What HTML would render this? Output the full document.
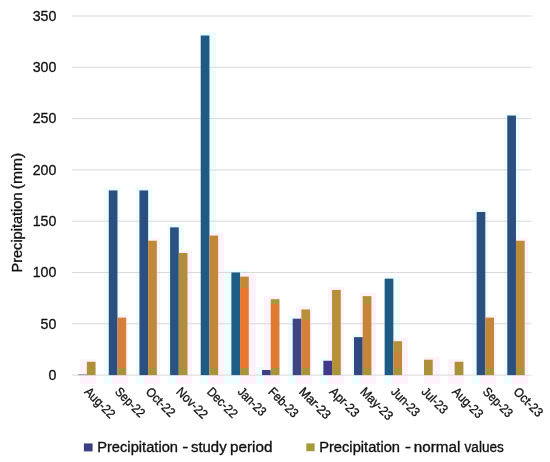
<!DOCTYPE html>
<html><head><meta charset="utf-8"><title>Precipitation</title>
<style>html,body{margin:0;padding:0;background:#fff}svg{display:block}</style></head>
<body>
<svg width="550" height="462" viewBox="0 0 550 462" font-family="'Liberation Sans', sans-serif" fill="#111">
<rect width="550" height="462" fill="#fff"/>
<rect x="104" y="187" width="16" height="197" fill="#eefefe"/>
<rect x="136" y="187" width="16" height="197" fill="#eefefe"/>
<rect x="168" y="224" width="16" height="160" fill="#eefefe"/>
<rect x="200" y="32" width="16" height="352" fill="#eefefe"/>
<rect x="224" y="270" width="24" height="114" fill="#eefefe"/>
<rect x="256" y="367" width="16" height="17" fill="#eefefe"/>
<rect x="288" y="316" width="16" height="68" fill="#eefefe"/>
<rect x="320" y="358" width="16" height="26" fill="#eefefe"/>
<rect x="352" y="334" width="16" height="50" fill="#eefefe"/>
<rect x="384" y="276" width="16" height="108" fill="#eefefe"/>
<rect x="472" y="209" width="16" height="175" fill="#eefefe"/>
<rect x="504" y="113" width="16" height="271" fill="#eefefe"/>
<rect x="80" y="359" width="16" height="25" fill="#fff3fb"/>
<rect x="112" y="315" width="16" height="69" fill="#fff3fb"/>
<rect x="144" y="238" width="16" height="146" fill="#fff3fb"/>
<rect x="176" y="250" width="16" height="134" fill="#fff3fb"/>
<rect x="208" y="233" width="16" height="151" fill="#fff3fb"/>
<rect x="240" y="274" width="16" height="110" fill="#fff3fb"/>
<rect x="264" y="296" width="16" height="88" fill="#fff3fb"/>
<rect x="296" y="306" width="16" height="78" fill="#fff3fb"/>
<rect x="328" y="287" width="16" height="97" fill="#fff3fb"/>
<rect x="360" y="293" width="16" height="91" fill="#fff3fb"/>
<rect x="392" y="338" width="16" height="46" fill="#fff3fb"/>
<rect x="424" y="357" width="16" height="27" fill="#fff3fb"/>
<rect x="448" y="359" width="16" height="25" fill="#fff3fb"/>
<rect x="480" y="315" width="16" height="69" fill="#fff3fb"/>
<rect x="512" y="238" width="16" height="146" fill="#fff3fb"/>
<line x1="71.8" x2="531.6" y1="375.10" y2="375.10" stroke="#d9d9d9" stroke-width="1"/>
<line x1="71.8" x2="531.6" y1="323.80" y2="323.80" stroke="#d9d9d9" stroke-width="1"/>
<line x1="71.8" x2="531.6" y1="272.50" y2="272.50" stroke="#d9d9d9" stroke-width="1"/>
<line x1="71.8" x2="531.6" y1="221.20" y2="221.20" stroke="#d9d9d9" stroke-width="1"/>
<line x1="71.8" x2="531.6" y1="169.90" y2="169.90" stroke="#d9d9d9" stroke-width="1"/>
<line x1="71.8" x2="531.6" y1="118.60" y2="118.60" stroke="#d9d9d9" stroke-width="1"/>
<line x1="71.8" x2="531.6" y1="67.30" y2="67.30" stroke="#d9d9d9" stroke-width="1"/>
<line x1="71.8" x2="531.6" y1="16.00" y2="16.00" stroke="#d9d9d9" stroke-width="1"/>
<rect x="78.13" y="374.48" width="8.7" height="0.62" fill="#5b6178"/>
<rect x="86.83" y="361.76" width="8.7" height="6.54" fill="#b08f3a"/>
<rect x="86.83" y="368.00" width="8.7" height="7.10" fill="#a8923a"/>
<rect x="108.78" y="190.42" width="8.7" height="184.68" fill="#2d4f80"/>
<rect x="117.48" y="317.64" width="8.7" height="50.66" fill="#d5803a"/>
<rect x="117.48" y="368.00" width="8.7" height="7.10" fill="#a8923a"/>
<rect x="139.43" y="190.42" width="8.7" height="184.68" fill="#2d4f80"/>
<rect x="148.13" y="240.69" width="8.7" height="127.61" fill="#bf8a3a"/>
<rect x="148.13" y="368.00" width="8.7" height="7.10" fill="#a8923a"/>
<rect x="170.09" y="227.36" width="8.7" height="147.74" fill="#2a5282"/>
<rect x="178.79" y="253.01" width="8.7" height="115.29" fill="#b38e3a"/>
<rect x="178.79" y="368.00" width="8.7" height="7.10" fill="#a8923a"/>
<rect x="200.74" y="35.49" width="8.7" height="339.61" fill="#1f5a85"/>
<rect x="209.44" y="235.56" width="8.7" height="132.74" fill="#c4873a"/>
<rect x="209.44" y="368.00" width="8.7" height="7.10" fill="#a8923a"/>
<rect x="231.39" y="272.50" width="8.7" height="102.60" fill="#1d5c85"/>
<rect x="240.09" y="276.60" width="8.7" height="11.70" fill="#c08a3a"/>
<rect x="240.09" y="288.00" width="8.7" height="80.30" fill="#e8772f"/>
<rect x="240.09" y="368.00" width="8.7" height="7.10" fill="#a8923a"/>
<rect x="262.05" y="369.97" width="8.7" height="5.13" fill="#3b3f85"/>
<rect x="270.75" y="299.18" width="8.7" height="5.12" fill="#a8983a"/>
<rect x="270.75" y="304.00" width="8.7" height="64.30" fill="#e07a32"/>
<rect x="270.75" y="368.00" width="8.7" height="7.10" fill="#a8923a"/>
<rect x="292.70" y="318.67" width="8.7" height="56.43" fill="#3d4585"/>
<rect x="301.40" y="309.44" width="8.7" height="10.86" fill="#b8903a"/>
<rect x="301.40" y="320.00" width="8.7" height="48.30" fill="#d5803a"/>
<rect x="301.40" y="368.00" width="8.7" height="7.10" fill="#a8923a"/>
<rect x="323.35" y="360.74" width="8.7" height="14.36" fill="#40388a"/>
<rect x="332.05" y="289.94" width="8.7" height="78.36" fill="#b58f3a"/>
<rect x="332.05" y="368.00" width="8.7" height="7.10" fill="#a8923a"/>
<rect x="354.01" y="337.14" width="8.7" height="37.96" fill="#30487f"/>
<rect x="362.71" y="296.10" width="8.7" height="8.20" fill="#b0923a"/>
<rect x="362.71" y="304.00" width="8.7" height="64.30" fill="#c5853a"/>
<rect x="362.71" y="368.00" width="8.7" height="7.10" fill="#a8923a"/>
<rect x="384.66" y="278.66" width="8.7" height="96.44" fill="#1f5a85"/>
<rect x="393.36" y="341.24" width="8.7" height="11.06" fill="#b58f3a"/>
<rect x="393.36" y="352.00" width="8.7" height="16.30" fill="#c5853a"/>
<rect x="393.36" y="368.00" width="8.7" height="7.10" fill="#a8923a"/>
<rect x="424.01" y="359.71" width="8.7" height="8.59" fill="#b08f3a"/>
<rect x="424.01" y="368.00" width="8.7" height="7.10" fill="#a8923a"/>
<rect x="454.67" y="361.76" width="8.7" height="6.54" fill="#b08f3a"/>
<rect x="454.67" y="368.00" width="8.7" height="7.10" fill="#a8923a"/>
<rect x="476.62" y="211.97" width="8.7" height="163.13" fill="#2d4f80"/>
<rect x="485.32" y="317.64" width="8.7" height="50.66" fill="#c4873a"/>
<rect x="485.32" y="368.00" width="8.7" height="7.10" fill="#a8923a"/>
<rect x="507.27" y="115.52" width="8.7" height="259.58" fill="#2d4f80"/>
<rect x="515.97" y="240.69" width="8.7" height="127.61" fill="#bb8c3a"/>
<rect x="515.97" y="368.00" width="8.7" height="7.10" fill="#a8923a"/>
<text x="56.4" y="379.80" font-size="14.8" text-anchor="end" textLength="7.9" lengthAdjust="spacingAndGlyphs" stroke="#111" stroke-width="0.32">0</text>
<text x="56.4" y="328.50" font-size="14.8" text-anchor="end" textLength="15.8" lengthAdjust="spacingAndGlyphs" stroke="#111" stroke-width="0.32">50</text>
<text x="56.4" y="277.20" font-size="14.8" text-anchor="end" textLength="23.7" lengthAdjust="spacingAndGlyphs" stroke="#111" stroke-width="0.32">100</text>
<text x="56.4" y="225.90" font-size="14.8" text-anchor="end" textLength="23.7" lengthAdjust="spacingAndGlyphs" stroke="#111" stroke-width="0.32">150</text>
<text x="56.4" y="174.60" font-size="14.8" text-anchor="end" textLength="23.7" lengthAdjust="spacingAndGlyphs" stroke="#111" stroke-width="0.32">200</text>
<text x="56.4" y="123.30" font-size="14.8" text-anchor="end" textLength="23.7" lengthAdjust="spacingAndGlyphs" stroke="#111" stroke-width="0.32">250</text>
<text x="56.4" y="72.00" font-size="14.8" text-anchor="end" textLength="23.7" lengthAdjust="spacingAndGlyphs" stroke="#111" stroke-width="0.32">300</text>
<text x="56.4" y="20.70" font-size="14.8" text-anchor="end" textLength="23.7" lengthAdjust="spacingAndGlyphs" stroke="#111" stroke-width="0.32">350</text>
<text transform="translate(83.63,392.5) rotate(45)" font-size="12.8" stroke="#111" stroke-width="0.32" textLength="37.5" lengthAdjust="spacingAndGlyphs">Aug-22</text>
<text transform="translate(114.28,392.5) rotate(45)" font-size="12.8" stroke="#111" stroke-width="0.32" textLength="36.3" lengthAdjust="spacingAndGlyphs">Sep-22</text>
<text transform="translate(144.93,392.5) rotate(45)" font-size="12.8" stroke="#111" stroke-width="0.32" textLength="35.5" lengthAdjust="spacingAndGlyphs">Oct-22</text>
<text transform="translate(175.59,392.5) rotate(45)" font-size="12.8" stroke="#111" stroke-width="0.32" textLength="38.1" lengthAdjust="spacingAndGlyphs">Nov-22</text>
<text transform="translate(206.24,392.5) rotate(45)" font-size="12.8" stroke="#111" stroke-width="0.32" textLength="37.0" lengthAdjust="spacingAndGlyphs">Dec-22</text>
<text transform="translate(236.89,392.5) rotate(45)" font-size="12.8" stroke="#111" stroke-width="0.32" textLength="34.3" lengthAdjust="spacingAndGlyphs">Jan-23</text>
<text transform="translate(267.55,392.5) rotate(45)" font-size="12.8" stroke="#111" stroke-width="0.32" textLength="36.3" lengthAdjust="spacingAndGlyphs">Feb-23</text>
<text transform="translate(298.20,392.5) rotate(45)" font-size="12.8" stroke="#111" stroke-width="0.32" textLength="38.8" lengthAdjust="spacingAndGlyphs">Mar-23</text>
<text transform="translate(328.85,392.5) rotate(45)" font-size="12.8" stroke="#111" stroke-width="0.32" textLength="35.9" lengthAdjust="spacingAndGlyphs">Apr-23</text>
<text transform="translate(359.51,392.5) rotate(45)" font-size="12.8" stroke="#111" stroke-width="0.32" textLength="40.1" lengthAdjust="spacingAndGlyphs">May-23</text>
<text transform="translate(390.16,392.5) rotate(45)" font-size="12.8" stroke="#111" stroke-width="0.32" textLength="34.9" lengthAdjust="spacingAndGlyphs">Jun-23</text>
<text transform="translate(420.81,392.5) rotate(45)" font-size="12.8" stroke="#111" stroke-width="0.32" textLength="31.2" lengthAdjust="spacingAndGlyphs">Jul-23</text>
<text transform="translate(451.47,392.5) rotate(45)" font-size="12.8" stroke="#111" stroke-width="0.32" textLength="37.5" lengthAdjust="spacingAndGlyphs">Aug-23</text>
<text transform="translate(482.12,392.5) rotate(45)" font-size="12.8" stroke="#111" stroke-width="0.32" textLength="36.3" lengthAdjust="spacingAndGlyphs">Sep-23</text>
<text transform="translate(512.77,392.5) rotate(45)" font-size="12.8" stroke="#111" stroke-width="0.32" textLength="35.5" lengthAdjust="spacingAndGlyphs">Oct-23</text>
<text transform="translate(22.2,272.5) rotate(-90)" font-size="14" stroke="#111" stroke-width="0.32" textLength="80" lengthAdjust="spacingAndGlyphs">Precipitation</text>
<text transform="translate(22.2,189.3) rotate(-90)" font-size="14" stroke="#111" stroke-width="0.32" textLength="36.5" lengthAdjust="spacingAndGlyphs">(mm)</text>
<rect x="83.9" y="443.4" width="8.7" height="8" fill="#3c3f82"/>
<text x="97.2" y="451.8" font-size="13.8" stroke="#111" stroke-width="0.32" textLength="80.8" lengthAdjust="spacingAndGlyphs">Precipitation</text>
<text x="182.2" y="451.8" font-size="13.8" stroke="#111" stroke-width="0.32" textLength="6.0" lengthAdjust="spacingAndGlyphs">-</text>
<text x="191" y="451.8" font-size="13.8" stroke="#111" stroke-width="0.32" textLength="35.6" lengthAdjust="spacingAndGlyphs">study</text>
<text x="230" y="451.8" font-size="13.8" stroke="#111" stroke-width="0.32" textLength="42.4" lengthAdjust="spacingAndGlyphs">period</text>
<rect x="306.3" y="443.4" width="8.3" height="7.8" fill="#a39a38"/>
<text x="319.2" y="451.8" font-size="13.8" stroke="#111" stroke-width="0.32" textLength="80.8" lengthAdjust="spacingAndGlyphs">Precipitation</text>
<text x="405" y="451.8" font-size="13.8" stroke="#111" stroke-width="0.32" textLength="6.0" lengthAdjust="spacingAndGlyphs">-</text>
<text x="413.8" y="451.8" font-size="13.8" stroke="#111" stroke-width="0.32" textLength="46.5" lengthAdjust="spacingAndGlyphs">normal</text>
<text x="464.6" y="451.8" font-size="13.8" stroke="#111" stroke-width="0.32" textLength="39.2" lengthAdjust="spacingAndGlyphs">values</text>
</svg>
</body></html>
